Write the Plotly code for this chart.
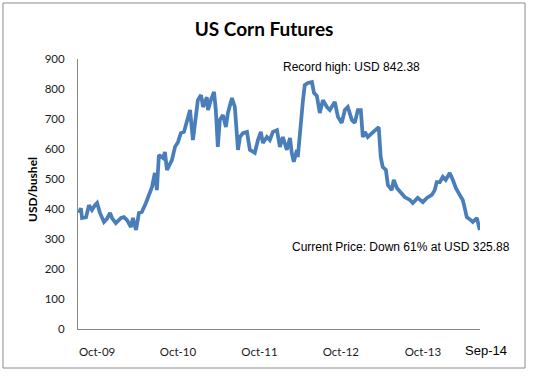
import plotly.graph_objects as go

dates = [
    "2009-10-05", "2009-10-14", "2009-10-19", "2009-11-06", "2009-11-19", "2009-12-02", "2009-12-16", "2009-12-25",
    "2010-01-07", "2010-01-25", "2010-02-07", "2010-02-21", "2010-03-02", "2010-03-19", "2010-04-11", "2010-04-24",
    "2010-05-08", "2010-05-25", "2010-06-03", "2010-06-17", "2010-06-30", "2010-07-13", "2010-07-31", "2010-08-09",
    "2010-08-27", "2010-09-09", "2010-09-18", "2010-09-27", "2010-10-15", "2010-10-24", "2010-11-02", "2010-11-24",
    "2010-12-08", "2010-12-21", "2011-01-03", "2011-01-17", "2011-01-30", "2011-02-13", "2011-02-26", "2011-03-07",
    "2011-03-20", "2011-04-03", "2011-04-12", "2011-04-29", "2011-05-04", "2011-05-17", "2011-05-31", "2011-06-08",
    "2011-06-17", "2011-06-26", "2011-07-10", "2011-07-23", "2011-08-01", "2011-08-19", "2011-09-01", "2011-09-15",
    "2011-09-24", "2011-10-07", "2011-10-25", "2011-11-07", "2011-11-29", "2011-12-13", "2011-12-26", "2012-01-04",
    "2012-01-22", "2012-02-04", "2012-02-18", "2012-03-07", "2012-03-20", "2012-04-02", "2012-04-20", "2012-05-04",
    "2012-05-12", "2012-05-21", "2012-06-04", "2012-06-08", "2012-06-17", "2012-07-01", "2012-07-09", "2012-07-23",
    "2012-08-10", "2012-08-19", "2012-09-01", "2012-09-14", "2012-09-28", "2012-10-16", "2012-10-29", "2012-11-20",
    "2012-12-04", "2012-12-21", "2013-01-04", "2013-01-17", "2013-02-04", "2013-02-17", "2013-03-03", "2013-03-16",
    "2013-03-25", "2013-04-03", "2013-04-16", "2013-05-04", "2013-05-18", "2013-06-04", "2013-06-13", "2013-06-22",
    "2013-07-06", "2013-07-15", "2013-08-01", "2013-08-10", "2013-08-24", "2013-09-06", "2013-09-28", "2013-10-21",
    "2013-11-03", "2013-11-25", "2013-12-18", "2014-01-05", "2014-01-27", "2014-02-09", "2014-02-18", "2014-03-04",
    "2014-03-17", "2014-03-30", "2014-04-17", "2014-05-01", "2014-05-14", "2014-05-27", "2014-06-14", "2014-06-23",
    "2014-07-02", "2014-07-20", "2014-07-29", "2014-08-16", "2014-08-25", "2014-08-29",
]
prices = [
    387, 403, 370, 373, 413, 397, 413, 420,
    387, 357, 367, 387, 370, 353, 370, 373,
    363, 340, 370, 330, 387, 390, 420, 437,
    473, 520, 463, 580, 570, 590, 530, 563,
    607, 623, 653, 657, 697, 730, 630, 697,
    763, 780, 740, 773, 730, 763, 790, 730,
    607, 697, 713, 673, 720, 770, 740, 597,
    640, 653, 657, 597, 587, 630, 657, 620,
    640, 630, 657, 663, 607, 640, 597, 637,
    587, 557, 597, 573, 663, 763, 813, 820,
    823, 787, 777, 720, 763, 740, 730, 757,
    707, 687, 730, 740, 697, 687, 730, 730,
    640, 657, 640, 653, 663, 673, 573, 540,
    530, 480, 463, 497, 470, 457, 440, 430,
    420, 437, 423, 437, 447, 463, 490, 490,
    507, 497, 520, 497, 470, 453, 430, 403,
    373, 363, 357, 370, 343, 330,
]

tick_dates = ["2009-12-25", "2010-12-21", "2011-12-20", "2012-12-17", "2013-12-18"]
tick_labels = ["Oct-09", "Oct-10", "Oct-11", "Oct-12", "Oct-13"]
last_label = "Sep-14"

y_ticks = [0, 100, 200, 300, 400, 500, 600, 700, 800, 900]

title_text = "US Corn Futures"
y_title = "USD/bushel"
note_high = "Record high: USD 842.38"
note_high_pos = ("2013-02-04", 873)
note_now = "Current Price: Down 61% at USD 325.88"
note_now_pos = ("2013-09-13", 273)

W, H = 534, 377
L, R, T, B = 78, 54, 59, 48
PW, PH = W - L - R, H - T - B

fig = go.Figure()
fig.add_trace(go.Scatter(
    x=dates, y=prices, mode="lines",
    line=dict(color="#4A7EBB", width=3.75),
    hoverinfo="x+y", showlegend=False,
))

calibri = "Lato, 'Open Sans', 'DejaVu Sans', sans-serif"
arial = "'Liberation Sans', Arial, sans-serif"

fig.update_layout(
    width=W, height=H,
    margin=dict(l=L, r=R, t=T, b=B),
    paper_bgcolor="white", plot_bgcolor="white",
    title=dict(text="<b>" + title_text + "</b>", x=264 / W, xanchor="center",
               y=1 - 29 / H, yanchor="middle",
               font=dict(family=calibri, size=19, color="#000000")),
    xaxis=dict(
        type="date", range=["2009-10-01", "2014-08-30"],
        tickvals=tick_dates, ticktext=tick_labels, ticks="",
        showgrid=False, zeroline=False,
        showline=True, linecolor="#868686", linewidth=1,
        tickfont=dict(family=calibri, size=11.5, color="#1a1a1a"),
        ticklabelstandoff=12,
    ),
    yaxis=dict(
        range=[0, 900], tickvals=y_ticks, ticks="",
        showgrid=False, zeroline=False,
        showline=True, linecolor="#868686", linewidth=1,
        tickfont=dict(family=calibri, size=11.5, color="#1a1a1a"),
        ticklabelstandoff=10,
    ),
    shapes=[dict(
        type="rect", xref="paper", yref="paper",
        x0=(3 - L) / PW, x1=(525 - L) / PW,
        y0=(H - B - 368) / PH, y1=(H - B - 3) / PH,
        line=dict(color="#8c8c8c", width=1), fillcolor="rgba(0,0,0,0)", layer="below",
    )],
    annotations=[
        dict(text="<b>" + y_title + "</b>", xref="paper", yref="paper",
             x=(32 - L) / PW, y=(H - B - 190) / PH,
             textangle=-90, showarrow=False, xanchor="center", yanchor="middle",
             font=dict(family=calibri, size=12, color="#000000")),
        dict(text=note_high, xref="x", yref="y", x=note_high_pos[0], y=note_high_pos[1],
             showarrow=False, xanchor="center", yanchor="middle",
             font=dict(family=arial, size=12, color="#000000")),
        dict(text=note_now, xref="x", yref="y", x=note_now_pos[0], y=note_now_pos[1],
             showarrow=False, xanchor="center", yanchor="middle",
             font=dict(family=arial, size=12, color="#000000")),
        dict(text=last_label, xref="paper", yref="paper",
             x=(486 - L) / PW, y=-(350 - (H - B)) / PH,
             showarrow=False, xanchor="center", yanchor="middle",
             font=dict(family=arial, size=13, color="#000000")),
    ],
)

fig.write_html("out.html", config={"displayModeBar": False},
               post_script="document.body.style.margin='0';")
